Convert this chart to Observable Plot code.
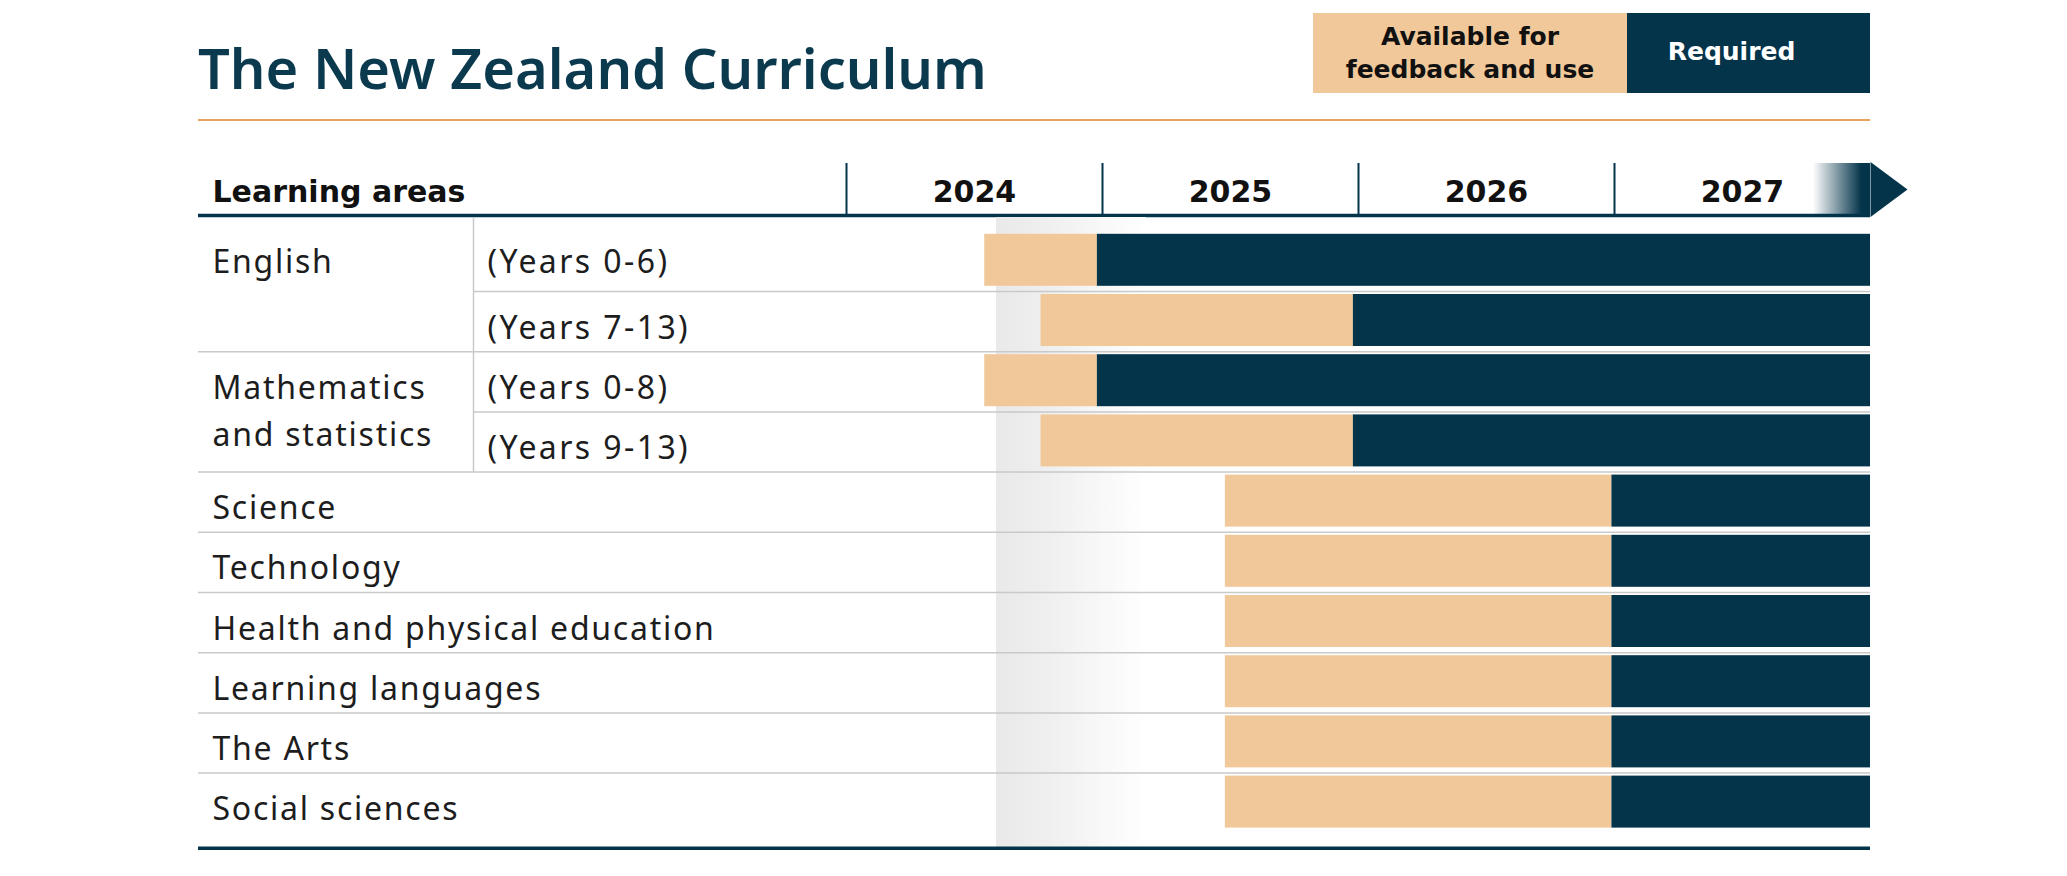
<!DOCTYPE html>
<html>
<head>
<meta charset="utf-8">
<script src="https://cdn.jsdelivr.net/npm/d3@7"></script>
<script src="https://cdn.jsdelivr.net/npm/@observablehq/plot@0.6"></script>
<style>
  html, body { margin: 0; padding: 0; background: #ffffff; }
  #head { position: relative; width: 2067px; height: 130px; }
  #title { position: absolute; left: 198px; top: 39px; font-family: "Noto Sans", sans-serif; font-weight: 600;
           font-size: 56px; line-height: 56px; color: #0b3a4f; white-space: nowrap; letter-spacing: 0px; }
  .legend-box { position: absolute; top: 13px; height: 80px; display: flex; align-items: center; justify-content: center;
                box-sizing: border-box; text-align: center; font-family: "DejaVu Sans", sans-serif; font-weight: bold;
                font-size: 25px; line-height: 33px; }
  #rule { position: absolute; left: 198px; top: 118.5px; width: 1672px; height: 2.5px; background: #eaa45f; }
  svg { display: block; }
  .body-plot g[fill="#1d1d1d"] text { letter-spacing: 1.75px; }
  .body-plot g[fill="#1d1d1e"] text { letter-spacing: 2.4px; }
</style>
</head>
<body>
<div id="head">
  <div id="title"></div>
  <div id="rule"></div>
</div>
<div id="chart"></div>
<script>
// ---------- data ----------
const chartTitle = "The New Zealand Curriculum";
const legendLabels = ["Available for\nfeedback and use", "Required"];
const headerLabel = "Learning areas";
const years = [2024, 2025, 2026, 2027];
const timelineEnd = 2028;

const areaNames = ["English", "Mathematics\nand statistics", "Science", "Technology",
  "Health and physical education", "Learning languages", "The Arts", "Social sciences"];
const areaFirstRow = [0, 2, 4, 5, 6, 7, 8, 9];

const yearLevels = ["(Years 0-6)", "(Years 7-13)", "(Years 0-8)", "(Years 9-13)", "", "", "", "", "", ""];
const availableFrom = [2024.54, 2024.76, 2024.54, 2024.76, 2025.48, 2025.48, 2025.48, 2025.48, 2025.48, 2025.48];
const requiredFrom  = [2024.98, 2025.98, 2024.98, 2025.98, 2026.99, 2026.99, 2026.99, 2026.99, 2026.99, 2026.99];
const todayShade = [2024.586, 2025.17];

// ---------- style / layout ----------
const W = 2067;
const NAVY = "#03344a";
const PEACH = "#f1c899";
const GRID = "#c9c9c9";
const AREA_INK = "#1d1d1d";
const LEVEL_INK = "#1d1d1e";
const X_RANGE = [846, 1870];
const M_LEFT = 198, M_RIGHT = W - 1870;
const SUBCOL = 275;          // sub-column divider, px from frame left
const fullRowLines = [2, 4, 5, 6, 7, 8, 9];
const subRowLines = [1, 3];
const FS = 32;

// ---------- header (HTML) ----------
document.getElementById("title").textContent = chartTitle;
const head = document.getElementById("head");
const legendSpecs = [
  {label: legendLabels[0], left: 1313, width: 314, bg: PEACH, color: "#111111", pad: 0},
  {label: legendLabels[1], left: 1627, width: 243, bg: NAVY, color: "#ffffff", pad: 34}
];
for (const s of legendSpecs) {
  const d = document.createElement("div");
  d.className = "legend-box";
  d.style.left = s.left + "px";
  d.style.width = s.width + "px";
  d.style.background = s.bg;
  d.style.color = s.color;
  d.style.paddingRight = s.pad + "px";
  d.style.paddingBottom = (s.pad ? 4 : 0) + "px";
  d.innerHTML = s.label.split("\n").join("<br>");
  head.appendChild(d);
}

const NS = "http://www.w3.org/2000/svg";
function gradient(id, stops) {
  return () => {
    const defs = document.createElementNS(NS, "defs");
    const g = document.createElementNS(NS, "linearGradient");
    g.setAttribute("id", id);
    g.setAttribute("x1", "0"); g.setAttribute("x2", "1");
    g.setAttribute("y1", "0"); g.setAttribute("y2", "0");
    for (const [off, col] of stops) {
      const s = document.createElementNS(NS, "stop");
      s.setAttribute("offset", off);
      s.setAttribute("stop-color", col);
      g.appendChild(s);
    }
    defs.appendChild(g);
    return defs;
  };
}

const arrowSymbol = {
  draw(context) {
    context.moveTo(0, -27.5);
    context.lineTo(37, 0);
    context.lineTo(0, 27.5);
    context.closePath();
  }
};

// ---------- header row (Plot) ----------
const headerPlot = Plot.plot({
  width: W, height: 87,
  marginTop: 33, marginBottom: 2, marginLeft: M_LEFT, marginRight: M_RIGHT,
  x: {domain: [years[0], timelineEnd], range: X_RANGE, axis: null},
  y: {domain: [0, 1], axis: null},
  style: {background: "transparent", overflow: "visible", fontFamily: "DejaVu Sans, sans-serif"},
  marks: [
    gradient("fadeGrad", [["0%", "#ffffff"], ["85%", NAVY], ["100%", NAVY]]),
    Plot.rect([timelineEnd], {x1: d => d - 0.223, x2: d => d, y1: 0, y2: 1, fill: "url(#fadeGrad)"}),
    Plot.ruleX(years, {stroke: NAVY, strokeWidth: 2}),
    Plot.ruleY([0], {stroke: NAVY, strokeWidth: 3.5}),
    Plot.dot([timelineEnd], {x: d => d, y: 0.5, symbol: arrowSymbol, fill: NAVY, stroke: "none"}),
    Plot.text(years, {x: d => d + 0.5, text: d => String(d), frameAnchor: "bottom", lineAnchor: "bottom", dy: -14,
      fontSize: 30, fontWeight: "bold", fill: "#111111"}),
    Plot.text([headerLabel], {frameAnchor: "bottom-left", textAnchor: "start", lineAnchor: "bottom", dx: 14, dy: -14,
      fontSize: 30, fontWeight: "bold", fill: "#111111"})
  ]
});

// ---------- body (Plot) ----------
const rows = yearLevels.map((lvl, i) => ({i, lvl, a: availableFrom[i], r: requiredFrom[i]}));
const areas = areaNames.map((name, k) => ({name, row: areaFirstRow[k], lines: name.split("\n").length}))
  .map(d => ({...d, y: d.row + d.lines / 2}));
const levelRows = rows.filter(d => d.lvl);

const labelOpts = {frameAnchor: "left", textAnchor: "start", lineAnchor: "middle", fontSize: FS};

const bodyPlot = Plot.plot({
  width: W, height: 659, className: "body-plot",
  marginTop: 0, marginBottom: 29, marginLeft: M_LEFT, marginRight: M_RIGHT,
  x: {domain: [years[0], timelineEnd], range: X_RANGE, axis: null},
  y: {domain: [0, yearLevels.length], range: [13.8, 615.8], axis: null},
  style: {background: "transparent", overflow: "visible", fontFamily: "Noto Sans, sans-serif"},
  marks: [
    gradient("nowGrad", [["0%", "#e9e9e9"], ["35%", "#efefef"], ["100%", "#ffffff"]]),
    Plot.rect([todayShade], {x1: d => d[0], x2: d => d[1], fill: "url(#nowGrad)"}),
    Plot.ruleY(fullRowLines, {stroke: GRID, strokeWidth: 1.5}),
    Plot.ruleY(subRowLines, {stroke: GRID, strokeWidth: 1.5, insetLeft: SUBCOL}),
    Plot.ruleX([years[0]], {y1: 0, y2: 4, insetTop: -13.8, dx: M_LEFT + SUBCOL - X_RANGE[0], stroke: GRID, strokeWidth: 1.5}),
    Plot.rect(rows, {x1: "a", x2: "r", y1: "i", y2: d => d.i + 1, insetTop: 3, insetBottom: 5.2, fill: PEACH}),
    Plot.rect(rows, {x1: "r", x2: () => timelineEnd, y1: "i", y2: d => d.i + 1, insetTop: 3, insetBottom: 5.2, fill: NAVY}),
    Plot.ruleY([yearLevels.length], {dy: 15, stroke: NAVY, strokeWidth: 3.5}),
    // area names: first row, two-line group, other single rows
    Plot.text(areas.filter(d => d.row === 0), {...labelOpts, y: "y", text: "name", dx: 14, dy: 1.5, fill: AREA_INK}),
    Plot.text(areas.filter(d => d.lines > 1), {...labelOpts, y: "y", text: "name", dx: 14, dy: -4.6, lineHeight: 1.47, fill: AREA_INK}),
    Plot.text(areas.filter(d => d.row > 0 && d.lines === 1), {...labelOpts, y: "y", text: "name", dx: 14, dy: 6.8, fill: AREA_INK}),
    // year levels
    Plot.text(levelRows.filter(d => d.i === 0), {...labelOpts, y: d => d.i + 0.5, text: "lvl", dx: SUBCOL + 14, dy: 1.5, fill: LEVEL_INK}),
    Plot.text(levelRows.filter(d => d.i > 0), {...labelOpts, y: d => d.i + 0.5, text: "lvl", dx: SUBCOL + 14, dy: 6.8, fill: LEVEL_INK})
  ]
});

const chart = document.getElementById("chart");
chart.appendChild(headerPlot);
chart.appendChild(bodyPlot);
</script>
</body>
</html>
